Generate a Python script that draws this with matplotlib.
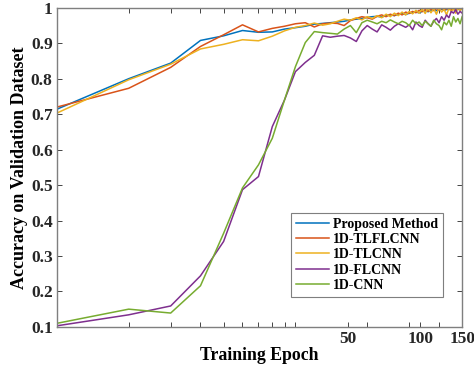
import numpy as np
import matplotlib
matplotlib.use("Agg")
import matplotlib.pyplot as plt
from matplotlib.ticker import NullLocator, FixedLocator, FixedFormatter

plt.rcParams['font.family'] = ['Liberation Serif', 'DejaVu Serif']
plt.rcParams['font.weight'] = 'bold'

# validation every 3 epochs
epochs = np.arange(3, 151, 3)

proposed = [0.714, 0.800, 0.844, 0.908, 0.921, 0.936, 0.931, 0.932, 0.940, 0.944,
            0.948, 0.954, 0.956, 0.958, 0.960, 0.962, 0.966, 0.968, 0.970, 0.973,
            0.975, 0.976, 0.974, 0.978, 0.980, 0.978, 0.982, 0.984, 0.981, 0.985,
            0.987, 0.988, 0.986, 0.990, 0.992, 0.989, 0.993, 0.995, 0.992, 0.994,
            0.996, 0.993, 0.995, 0.997, 0.994, 0.996, 0.998, 0.995, 0.997, 0.998]
tlflcnn = [0.720, 0.773, 0.832, 0.891, 0.924, 0.952, 0.932, 0.942, 0.948, 0.955,
           0.958, 0.946, 0.955, 0.957, 0.956, 0.950, 0.964, 0.970, 0.975, 0.972,
           0.968, 0.976, 0.980, 0.975, 0.982, 0.978, 0.985, 0.980, 0.988, 0.984,
           0.990, 0.986, 0.993, 0.989, 0.995, 0.990, 0.997, 0.992, 0.998, 0.993,
           0.999, 0.994, 0.997, 0.999, 0.995, 0.998, 0.994, 0.999, 0.996, 0.998]
tlcnn = [0.703, 0.797, 0.841, 0.884, 0.897, 0.910, 0.907, 0.920, 0.935, 0.945,
         0.950, 0.957, 0.951, 0.955, 0.962, 0.968, 0.965, 0.972, 0.966, 0.975,
         0.970, 0.978, 0.972, 0.982, 0.975, 0.985, 0.978, 0.988, 0.980, 0.990,
         0.983, 0.993, 0.985, 0.997, 0.984, 1.000, 0.986, 0.998, 0.982, 1.000,
         0.988, 0.996, 0.980, 0.999, 0.990, 0.997, 0.985, 1.000, 0.992, 0.998]
flcnn = [0.103, 0.134, 0.159, 0.244, 0.341, 0.487, 0.524, 0.665, 0.740, 0.820,
         0.846, 0.866, 0.921, 0.917, 0.920, 0.922, 0.915, 0.905, 0.935, 0.950,
         0.940, 0.932, 0.952, 0.945, 0.937, 0.948, 0.955, 0.950, 0.945, 0.952,
         0.938, 0.960, 0.950, 0.945, 0.965, 0.955, 0.948, 0.962, 0.970, 0.958,
         0.975, 0.965, 0.980, 0.972, 0.990, 0.985, 0.995, 0.982, 0.990, 0.985]
cnn = [0.110, 0.150, 0.139, 0.216, 0.364, 0.492, 0.557, 0.632, 0.740, 0.834,
       0.902, 0.933, 0.930, 0.928, 0.926, 0.940, 0.950, 0.930, 0.958, 0.965,
       0.960, 0.955, 0.962, 0.958, 0.966, 0.960, 0.955, 0.962, 0.958, 0.950,
       0.965, 0.955, 0.960, 0.950, 0.962, 0.955, 0.948, 0.965, 0.955, 0.950,
       0.938, 0.960, 0.952, 0.965, 0.948, 0.975, 0.960, 0.970, 0.955, 0.975]

labels = ['Proposed Method', '1D-TLFLCNN', '1D-TLCNN', '1D-FLCNN', '1D-CNN']
colors = ['#0072BD', '#D95319', '#EDB120', '#7E2F8E', '#77AC30']

xtick_pos = [6, 9, 12, 15, 18, 21, 24, 27, 30, 50, 60, 90, 100, 120, 150]
xtick_lab = ['' if t not in (50, 100, 150) else str(t) for t in xtick_pos]

fig = plt.figure(figsize=(4.74, 3.91), dpi=100)
ax = fig.add_axes([0.120, 0.164, 0.855, 0.816])

for ys, lab, c in zip([proposed, tlflcnn, tlcnn, flcnn, cnn], labels, colors):
    ax.plot(epochs, ys, color=c, lw=1.1, label=lab)

ax.set_xscale('log')
ax.set_xlim(3, 150)
ax.set_ylim(0.1, 1.0)
ax.xaxis.set_major_locator(FixedLocator(xtick_pos))
ax.xaxis.set_major_formatter(FixedFormatter(xtick_lab))
ax.xaxis.set_minor_locator(NullLocator())
ax.set_yticks(np.arange(0.1, 1.01, 0.1))
ax.set_yticklabels(['0.1', '0.2', '0.3', '0.4', '0.5', '0.6', '0.7', '0.8', '0.9', '1'])

ax.tick_params(direction='in', length=3.5, width=0.6, top=True, right=True,
               labelsize=12.5, colors='#262626', pad=3)
for s in ax.spines.values():
    s.set_color('#7f7f7f')
    s.set_linewidth(1.0)

ax.set_xlabel('Training Epoch', fontsize=12.8, fontweight='bold', labelpad=0)
ax.set_ylabel('Accuracy on Validation Dataset', fontsize=13, fontweight='bold', labelpad=2)

leg = ax.legend(loc='lower right', bbox_to_anchor=(0.953, 0.094), fontsize=10,
                fancybox=False, framealpha=1, edgecolor='#7f7f7f',
                handlelength=2.4, handletextpad=0.3, labelspacing=0.17,
                borderpad=0.35, borderaxespad=0)
leg.get_frame().set_linewidth(0.8)

fig.savefig('out.png', dpi=100)
